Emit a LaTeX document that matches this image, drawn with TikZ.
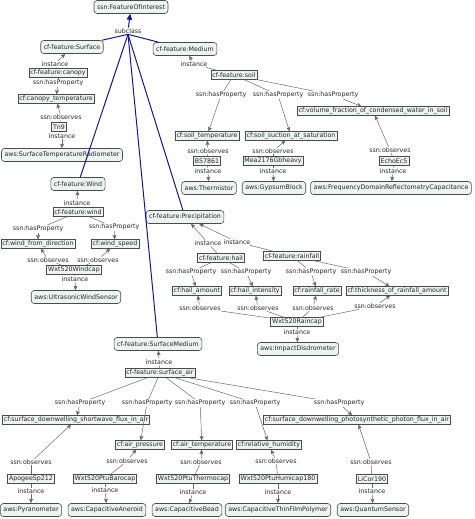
\documentclass[tikz,border=0pt]{standalone}
\usepackage{fontspec}
\setmainfont{DejaVu Sans}
\usepackage{tikz}
\usetikzlibrary{arrows.meta}

\definecolor{boxfill}{RGB}{236,244,242}
\definecolor{boxline}{RGB}{75,75,75}
\definecolor{relgray}{RGB}{105,105,105}
\definecolor{subblue}{RGB}{22,22,140}

\tikzset{
  cls/.style={draw=boxline,fill=boxfill,rounded corners=3pt,inner xsep=3pt,inner ysep=0pt,minimum height=13pt,line width=0.6pt},
  ind/.style={draw=boxline,fill=boxfill,inner xsep=1.5pt,inner ysep=0pt,minimum height=8.5pt,line width=0.6pt},
  lbl/.style={inner sep=0.7pt},
  rel/.style={draw=relgray,line width=0.5pt},
  hd/.style={-{Stealth[length=4.5pt,width=4pt,inset=1pt]}},
  sub/.style={draw=subblue,line width=1pt},
}

\begin{document}
\begin{tikzpicture}[x=1pt,y=-1pt,font=\fontsize{6.3}{7}\selectfont,text=black!85]
\useasboundingbox (0,0) rectangle (474,519);

% classes
\node[cls] (foi) at (131,7) {ssn:FeatureOfInterest};
\node[cls] (surface) at (72,47) {cf-feature:Surface};
\node[cls] (medium) at (185,49) {cf-feature:Medium};
\node[cls] (wind) at (78,184) {cf-feature:Wind};
\node[cls] (precip) at (185,217) {cf-feature:Precipitation};
\node[cls] (surfmed) at (158,344) {cf-feature:SurfaceMedium};

\node[cls] (radiometer) at (62,155) {aws:SurfaceTemperatureRadiometer};
\node[cls] (thermistor) at (209,188) {aws:Thermistor};
\node[cls] (gypsum) at (274,188) {aws:GypsumBlock};
\node[cls] (fdrc) at (391,188) {aws:FrequencyDomainReflectometryCapacitance};
\node[cls] (ultrasonic) at (76,297) {aws:UltrasonicWindSensor};
\node[cls] (impact) at (298,349) {aws:ImpactDisdrometer};
\node[cls] (pyrano) at (31,510) {aws:Pyranometer};
\node[cls] (aneroid) at (107,510) {aws:CapacitiveAneroid};
\node[cls] (bead) at (187,510) {aws:CapacitiveBead};
\node[cls] (tfp) at (278,510) {aws:CapacitiveThinFilmPolymer};
\node[cls] (quantum) at (373,510) {aws:QuantumSensor};

% individuals and properties
\node[ind] (canopy) at (58,73) {cf-feature:canopy};
\node[ind] (canopytemp) at (56,99) {cf:canopy\_temperature};
\node[ind] (tn9) at (59,127) {Tn9};

\node[ind] (soil) at (234,75) {cf-feature:soil};
\node[ind] (soiltemp) at (207,136) {cf:soil\_temperature};
\node[ind] (suction) at (291,136) {cf:soil\_suction\_at\_saturation};
\node[ind] (volfrac) at (373,111) {cf:volume\_fraction\_of\_condensed\_water\_in\_soil};
\node[ind] (b57861) at (207,161) {B57861};
\node[ind] (mea) at (273,161) {Mea2176Gbheavy};
\node[ind] (echo) at (394,161) {EchoEc5};

\node[ind] (windi) at (78,212) {cf-feature:wind};
\node[ind] (winddir) at (38,244) {cf:wind\_from\_direction};
\node[ind] (windspeed) at (115,244) {cf:wind\_speed};
\node[ind] (windcap) at (74,270) {Wxt520Windcap};

\node[ind] (hail) at (221,258) {cf-feature:hail};
\node[ind] (rainfall) at (292,256) {cf-feature:rainfall};
\node[ind] (hailamt) at (197,291) {cf:hail\_amount};
\node[ind] (hailint) at (255,291) {cf:hail\_intensity};
\node[ind] (rainrate) at (317,291) {cf:rainfall\_rate};
\node[ind] (thick) at (397,291) {cf:thickness\_of\_rainfall\_amount};
\node[ind] (raincap) at (297,322) {Wxt520Raincap};

\node[ind] (surfair) at (160,373) {cf-feature:surface\_air};
\node[ind] (shortwave) at (76,420) {cf:surface\_downwelling\_shortwave\_flux\_in\_air};
\node[ind] (pressure) at (140,445) {cf:air\_pressure};
\node[ind] (airtemp) at (202,445) {cf:air\_temperature};
\node[ind] (humid) at (269,445) {cf:relative\_humidity};
\node[ind] (photo) at (357,420) {cf:surface\_downwelling\_photosynthetic\_photon\_flux\_in\_air};
\node[ind] (apogee) at (31,479) {ApogeeSp212};
\node[ind] (barocap) at (105,479) {Wxt520PtuBarocap};
\node[ind] (thermocap) at (193,479) {Wxt520PtuThermocap};
\node[ind] (humicap) at (278,479) {Wxt520PtuHumicap180};
\node[ind] (licor) at (372,479) {LiCor190};

% edge labels
\foreach \n/\x/\y in {i1/55/64, i2/62/136, i3/194/64, i4/208/171, i5/273/171, i6/393/171,
    i7/77/203, i8/75/279, i9/208/243, i10/237/242, i11/297/332, i12/159/362,
    i13/31/491, i14/105/490, i15/193/492, i16/278/492, i17/372/491}
    \node[lbl] (\n) at (\x,\y) {instance};

\foreach \n/\x/\y in {p1/58/83, p2/221/95, p3/278/95, p4/333/95, p5/38/229, p6/114/227,
    p7/191/272, p8/246/272, p9/311/272, p10/366/272,
    p11/80/403, p12/147/403, p13/200/403, p14/255/403, p15/339/403}
    \node[lbl] (\n) at (\x,\y) {ssn:hasProperty};

\foreach \n/\x/\y in {o1/61/117, o2/208/151, o3/273/151, o4/390/150, o5/48/260, o6/98/260,
    o7/200/308, o8/258/308, o9/313/308, o10/375/306,
    o11/31/462, o12/127/461, o13/201/462, o14/276/461, o15/371/462}
    \node[lbl] (\n) at (\x,\y) {ssn:observes};

% relations, each through its label
\foreach \a/\l/\b in {canopy/i1/surface, tn9/i2/radiometer, soil/i3/medium,
    b57861/i4/thermistor, mea/i5/gypsum, echo/i6/fdrc, windi/i7/wind,
    windcap/i8/ultrasonic, hail/i9/precip, rainfall/i10/precip, raincap/i11/impact,
    surfair/i12/surfmed, apogee/i13/pyrano, barocap/i14/aneroid,
    thermocap/i15/bead, humicap/i16/tfp, licor/i17/quantum,
    canopy/p1/canopytemp, soil/p2/soiltemp, soil/p3/suction, soil/p4/volfrac,
    windi/p5/winddir, windi/p6/windspeed, hail/p7/hailamt, hail/p8/hailint,
    rainfall/p9/rainrate, rainfall/p10/thick, surfair/p11/shortwave,
    surfair/p12/pressure, surfair/p13/airtemp, surfair/p14/humid, surfair/p15/photo,
    tn9/o1/canopytemp, b57861/o2/soiltemp, mea/o3/suction, echo/o4/volfrac,
    windcap/o5/winddir, windcap/o6/windspeed, raincap/o7/hailamt, raincap/o8/hailint,
    raincap/o9/rainrate, raincap/o10/thick, apogee/o11/shortwave,
    barocap/o12/pressure, thermocap/o13/airtemp, humicap/o14/humid, licor/o15/photo}
{
    \draw[rel] (\a) -- (\l);
    \draw[rel,hd] (\l) -- (\b);
}

% subclass tree
\node[lbl] (subc) at (128,31) {subclass};
\draw[sub,-{Triangle[length=6pt,width=5.5pt]}] (subc) -- (foi);
\foreach \c in {surface,medium,wind,precip,surfmed}
    \draw[sub] (subc.south) -- (\c);

\end{tikzpicture}
\end{document}
